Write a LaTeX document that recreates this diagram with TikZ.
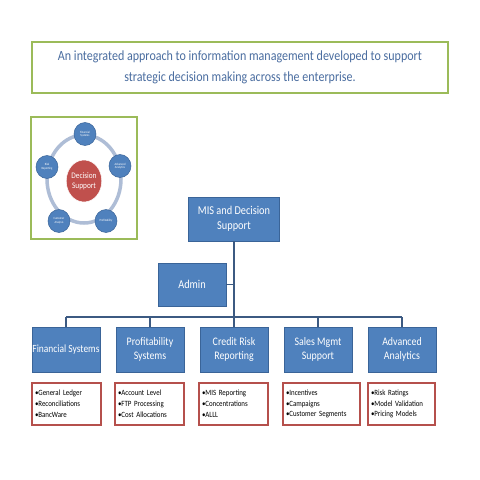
\documentclass[tikz,border=0pt]{standalone}
\usepackage{fontspec}
\setmainfont{Carlito}[FakeStretch=0.86]
\usetikzlibrary{shapes.geometric}
\definecolor{bluebox}{HTML}{4F81BD}
\definecolor{blueedge}{HTML}{3A6498}
\definecolor{redbox}{HTML}{B5504C}
\definecolor{greenedge}{HTML}{9BBB59}
\definecolor{topblue}{HTML}{4A6DA0}
\definecolor{linecol}{HTML}{3C5A82}
\definecolor{ringcol}{HTML}{AEBDD6}
\definecolor{redcirc}{HTML}{C0504D}
\begin{document}
\begin{tikzpicture}[x=1pt,y=-1pt,
  bluenode/.style={draw=blueedge,fill=bluebox,line width=0.8pt,text=white,
    align=center,inner sep=0pt,font=\fontsize{11.5}{14}\selectfont},
  listnode/.style={draw=redbox,fill=white,line width=1.4pt,align=left,
    anchor=center,inner sep=3pt,font=\fontsize{8}{10.8}\selectfont,
    minimum height=42pt,text width=#1},
  conn/.style={draw=linecol,line width=1.4pt},
  smallc/.style={ellipse,draw=blueedge,fill=bluebox,line width=0.5pt,
    minimum width=22pt,minimum height=23pt,inner sep=0pt,text=white,
    align=center,font=\fontsize{3.2}{3.7}\selectfont}]
\useasboundingbox (0,0) rectangle (480,480);
\fill[white] (0,0) rectangle (480,480);
% top statement
\node[draw=greenedge,line width=1.8pt,minimum width=416pt,minimum height=51pt,
  text=topblue,align=center,font=\fontsize{14}{21}\selectfont] (title) at (240,67.5)
  {An integrated approach to information management developed to support\\strategic decision making across the enterprise.};
% inset
\node[draw=greenedge,line width=2pt,minimum width=106pt,minimum height=122pt,inner sep=0pt] (inset) at (84,178) {};
\draw[ringcol,line width=3.5pt] (84,179) ellipse [x radius=37, y radius=44];
\node[ellipse,draw=white,fill=redcirc,line width=0.5pt,minimum width=35pt,minimum height=42pt,
  inner sep=0pt,text=white,align=center,font=\fontsize{8.5}{10}\selectfont] (ds) at (84,181) {Decision\\Support};
\node[smallc] (c1) at (85,134) {Financial\\Systems};
\node[smallc] (c2) at (120,166) {Advanced\\Analytics};
\node[smallc] (c3) at (106,221) {Profitability};
\node[smallc] (c4) at (59,221) {Customer\\Analysis};
\node[smallc] (c5) at (47,167) {Risk\\Reporting};
% org chart
\node[bluenode,minimum width=91pt,minimum height=44pt,font=\fontsize{12}{15}\selectfont] (mis) at (234,219) {MIS and Decision\\Support};
\node[bluenode,minimum width=68pt,minimum height=43pt,font=\fontsize{12}{14}\selectfont] (admin) at (192,284.5) {Admin};
\node[bluenode,minimum width=68pt,minimum height=45pt,font=\fontsize{11}{14}\selectfont] (fin) at (66,349.5) {Financial Systems};
\node[bluenode,minimum width=68pt,minimum height=45pt] (prof) at (150,349.5) {Profitability\\Systems};
\node[bluenode,minimum width=68pt,minimum height=45pt] (cred) at (234,349.5) {Credit Risk\\Reporting};
\node[bluenode,minimum width=68pt,minimum height=45pt] (sales) at (318,349.5) {Sales Mgmt\\Support};
\node[bluenode,minimum width=68pt,minimum height=45pt] (adv) at (402,349.5) {Advanced\\Analytics};
\coordinate (j) at (234,317);
\draw[conn] (mis.south) -- (j);
\draw[conn] (admin.east) -- (admin.east -| mis.south);
\draw[conn] (fin.north |- j) -- (adv.north |- j);
\foreach \n in {fin,prof,cred,sales,adv}{\draw[conn] (\n.north |- j) -- (\n.north);}
% lists
\node[listnode=63pt] (l1) at (66.5,404) {•General Ledger\\•Reconciliations\\•BancWare};
\node[listnode=63pt] (l2) at (149.5,404) {•Account Level\\•FTP Processing\\•Cost Allocations};
\node[listnode=63pt] (l3) at (233.5,404) {•MIS Reporting\\•Concentrations\\•ALLL};
\node[listnode=71pt] (l4) at (321.5,404) {•Incentives\\•Campaigns\\•Customer Segments};
\node[listnode=61pt] (l5) at (401.5,404) {•Risk Ratings\\•Model Validation\\•Pricing Models};
\end{tikzpicture}
\end{document}
